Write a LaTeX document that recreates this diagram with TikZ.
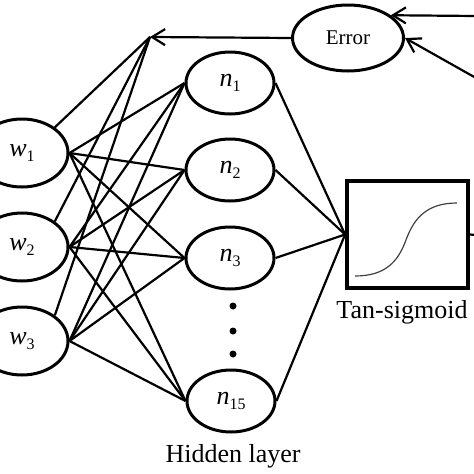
\documentclass[tikz,border=0pt]{standalone}
\usepackage{fontspec}
\setmainfont{Liberation Serif}
\usetikzlibrary{shapes.geometric,arrows.meta}
\newcommand{\nlab}[2]{\textit{#1}\raisebox{-5.5pt}{\fontsize{16}{16}\selectfont #2}}
\tikzset{
  neuron/.style={draw, ellipse, line width=3pt, inner sep=0pt, font=\fontsize{26}{26}\selectfont},
  inneuron/.style={neuron, minimum width=92pt, minimum height=68pt},
  hidneuron/.style={neuron, minimum width=88pt, minimum height=62pt},
  link/.style={line width=2.2pt},
  barb/.style={link, -{Straight Barb[length=13pt,width=16pt,line width=2.2pt]}},
  caption/.style={font=\fontsize{26}{26}\selectfont, inner sep=0pt}
}
\begin{document}
\begin{tikzpicture}[x=1pt,y=-1pt]
\useasboundingbox (0,0) rectangle (474,474);
% input nodes
\node[inneuron] (w1) at (22,153) {\nlab{w}{1}};
\node[inneuron] (w2) at (22,247) {\nlab{w}{2}};
\node[inneuron] (w3) at (22,341) {\nlab{w}{3}};
% hidden nodes
\node[hidneuron] (n1) at (230,83) {\nlab{n}{1}};
\node[hidneuron] (n2) at (230,170) {\nlab{n}{2}};
\node[hidneuron] (n3) at (230,258) {\nlab{n}{3}};
\node[hidneuron] (n15) at (231,401) {\nlab{n}{15}};
\foreach \y/\nm in {306/d1,331/d2,354/d3}
  \node[circle, fill=black, inner sep=0pt, minimum size=7pt] (\nm) at (233,\y) {};
% error node
\node[neuron, minimum width=111pt, minimum height=66pt, font=\fontsize{21}{21}\selectfont] (err) at (348,38) {Error};
% tan-sigmoid box
\node[draw, line width=3.8pt, minimum width=121pt, minimum height=107pt, inner sep=0pt] (box) at (407.5,234.5) {};
\draw[line width=1.2pt, black!75] (355,276) .. controls (385,276) and (398,262) .. (406,240)
  .. controls (414,218) and (427,203) .. (457,203);
% captions
\node[caption] (hl) at (233,456) {Hidden layer};
\node[caption] (ts) at (402,312) {Tan-sigmoid};
% free ends
\coordinate (conv) at (150,37);
\coordinate (in1) at (476,16);
\coordinate (in2) at (476,78);
\coordinate (out) at (476,235);
% connections input -> hidden
\foreach \w in {w1,w2,w3}
  \foreach \n in {n1,n2,n3,n15}
    \draw[link] (\w.east) -- (\n.west);
% input -> convergence point
\foreach \w in {w1,w2,w3}
  \draw[link] (\w.38) -- (conv);
% hidden -> box
\foreach \n in {n1,n2,n3,n15}
  \draw[link] (\n.east) -- (box.west);
\draw[link] (box.east) -- (out);
% error arrows
\draw[barb] (err.west) -- (conv);
\draw[barb] (in1) -- (err.28);
\draw[barb] (in2) -- (err.east);
\end{tikzpicture}
\end{document}
